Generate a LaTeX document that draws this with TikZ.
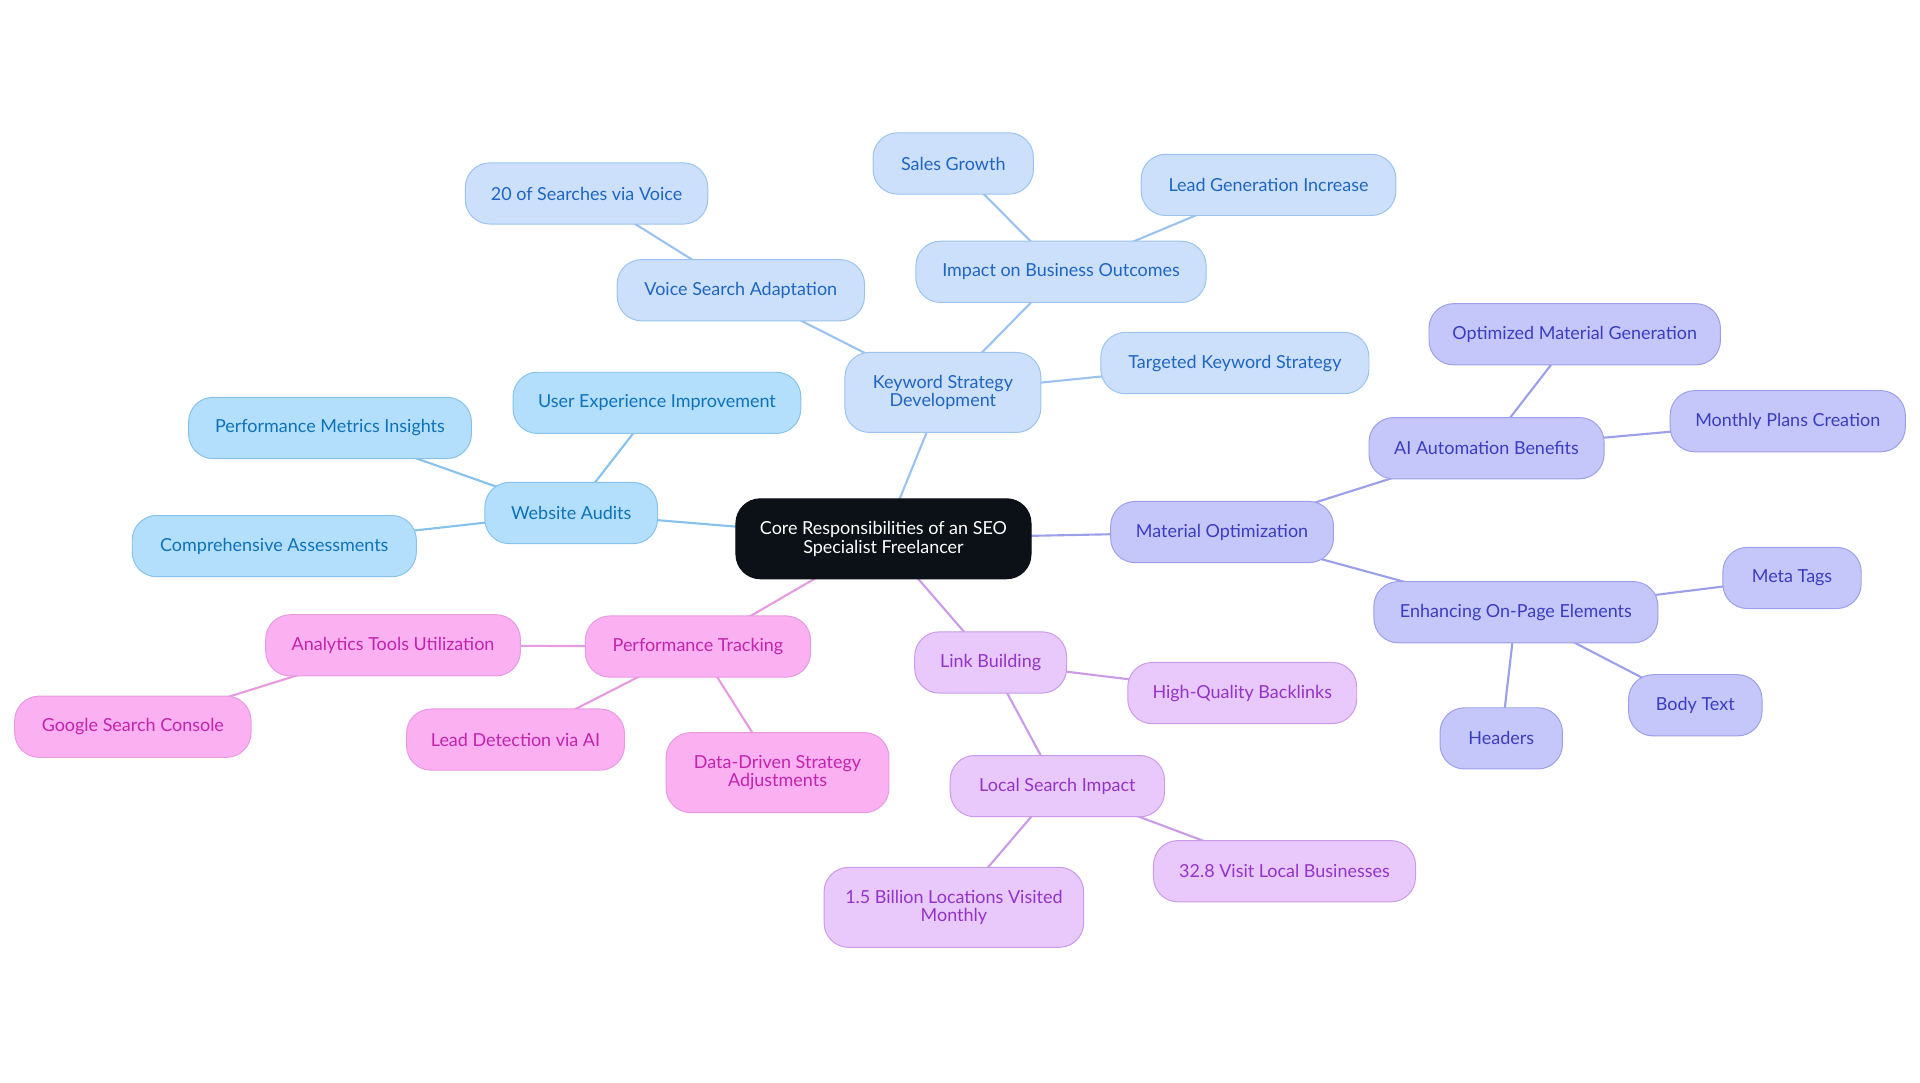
\documentclass[tikz,border=0pt]{standalone}
\usepackage{fontspec}
\setmainfont{Lato}
\usetikzlibrary{backgrounds}
\definecolor{kwfill}{HTML}{CCE0FB}\definecolor{kwdraw}{HTML}{9CC3F0}\definecolor{kwtext}{HTML}{1F66C1}
\definecolor{wafill}{HTML}{B3DFFD}\definecolor{wadraw}{HTML}{86C2EC}\definecolor{watext}{HTML}{0D72B8}
\definecolor{mofill}{HTML}{C5C7FA}\definecolor{modraw}{HTML}{9C9FE9}\definecolor{motext}{HTML}{3B3DC0}
\definecolor{lbfill}{HTML}{E9C8FC}\definecolor{lbdraw}{HTML}{C99BE9}\definecolor{lbtext}{HTML}{9234C8}
\definecolor{ptfill}{HTML}{FBB0F2}\definecolor{ptdraw}{HTML}{E89AE0}\definecolor{pttext}{HTML}{C224AC}
\definecolor{corefill}{HTML}{0B1117}
\begin{document}
\begin{tikzpicture}[x=0.75pt,y=-0.75pt,
  box/.style={rounded corners=15pt,inner sep=0pt,align=center,line width=0.6pt,
    font=\fontsize{11}{11.5}\selectfont,minimum height=37.5pt},
  kw/.style={box,fill=kwfill,draw=kwdraw,text=kwtext},
  wa/.style={box,fill=wafill,draw=wadraw,text=watext},
  mo/.style={box,fill=mofill,draw=modraw,text=motext},
  lb/.style={box,fill=lbfill,draw=lbdraw,text=lbtext},
  pt/.style={box,fill=ptfill,draw=ptdraw,text=pttext},
  tall/.style={minimum height=49pt},
  kwe/.style={draw=kwdraw,line width=1.3pt},
  wae/.style={draw=wadraw,line width=1.3pt},
  moe/.style={draw=modraw,line width=1.3pt},
  lbe/.style={draw=lbdraw,line width=1.3pt},
  pte/.style={draw=ptdraw,line width=1.3pt}]
\useasboundingbox (0,0) rectangle (1568,884);
% core
\node[box,tall,fill=corefill,draw=corefill,text=white,minimum width=180.75pt] (core) at (721.5,440) {Core Responsibilities of an SEO\\Specialist Freelancer};
% keyword branch
\node[kw,tall,minimum width=120pt] (kw) at (770,320.5) {Keyword Strategy\\Development};
\node[kw,minimum width=151.5pt] (voice) at (605,237) {Voice Search Adaptation};
\node[kw,minimum width=148.5pt] (twenty) at (479,158) {20 of Searches via Voice};
\node[kw,minimum width=177.75pt] (impact) at (866.5,222) {Impact on Business Outcomes};
\node[kw,minimum width=98.25pt] (sales) at (778.5,133.5) {Sales Growth};
\node[kw,minimum width=156pt] (leadgen) at (1036,151) {Lead Generation Increase};
\node[kw,minimum width=164.25pt] (target) at (1008.5,296.5) {Targeted Keyword Strategy};
% website audits
\node[wa,minimum width=105.75pt] (wa) at (466.5,419) {Website Audits};
\node[wa,minimum width=176.25pt] (ux) at (536.5,329) {User Experience Improvement};
\node[wa,minimum width=173.25pt] (pmi) at (269.5,349.5) {Performance Metrics Insights};
\node[wa,minimum width=174pt] (comp) at (224,446) {Comprehensive Assessments};
% material optimization
\node[mo,minimum width=136.5pt] (mo) at (998,434.5) {Material Optimization};
\node[mo,minimum width=144pt] (ai) at (1214,366) {AI Automation Benefits};
\node[mo,minimum width=178.5pt] (omg) at (1286,273) {Optimized Material Generation};
\node[mo,minimum width=144pt] (mpc) at (1460,344) {Monthly Plans Creation};
\node[mo,minimum width=174pt] (enh) at (1238,500) {Enhancing On-Page Elements};
\node[mo,minimum width=84.75pt] (meta) at (1463.5,472) {Meta Tags};
\node[mo,minimum width=81.75pt] (body) at (1384.5,576) {Body Text};
\node[mo,minimum width=75pt] (head) at (1226,603) {Headers};
% link building
\node[lb,minimum width=93pt] (lb) at (809,541) {Link Building};
\node[lb,minimum width=140.25pt] (hq) at (1014.5,566) {High-Quality Backlinks};
\node[lb,minimum width=131.25pt] (local) at (863.5,642) {Local Search Impact};
\node[lb,tall,minimum width=159pt] (billion) at (779,741) {1.5 Billion Locations Visited\\Monthly};
\node[lb,minimum width=160.5pt] (visit) at (1049,711.5) {32.8 Visit Local Businesses};
% performance tracking
\node[pt,minimum width=138pt] (pt) at (570,528) {Performance Tracking};
\node[pt,minimum width=156pt] (ana) at (321,527) {Analytics Tools Utilization};
\node[pt,minimum width=144.75pt] (gsc) at (108.5,593.5) {Google Search Console};
\node[pt,minimum width=133.5pt] (ldai) at (421,604) {Lead Detection via AI};
\node[pt,tall,minimum width=136.5pt] (ddsa) at (635,631) {Data-Driven Strategy\\Adjustments};
\begin{pgfonlayer}{background}
\path[kwe] (core.center) -- (kw.center);
\path[kwe] (kw.center) -- (voice.center);
\path[kwe] (voice.center) -- (twenty.center);
\path[kwe] (kw.center) -- (impact.center);
\path[kwe] (impact.center) -- (sales.center);
\path[kwe] (impact.center) -- (leadgen.center);
\path[kwe] (kw.center) -- (target.center);
\path[wae] (core.center) -- (wa.center);
\path[wae] (wa.center) -- (ux.center);
\path[wae] (wa.center) -- (pmi.center);
\path[wae] (wa.center) -- (comp.center);
\path[moe] (core.center) -- (mo.center);
\path[moe] (mo.center) -- (ai.center);
\path[moe] (ai.center) -- (omg.center);
\path[moe] (ai.center) -- (mpc.center);
\path[moe] (mo.center) -- (enh.center);
\path[moe] (enh.center) -- (meta.center);
\path[moe] (enh.center) -- (body.center);
\path[moe] (enh.center) -- (head.center);
\path[lbe] (core.center) -- (lb.center);
\path[lbe] (lb.center) -- (hq.center);
\path[lbe] (lb.center) -- (local.center);
\path[lbe] (local.center) -- (visit.center);
\path[lbe] (local.center) -- (billion.center);
\path[pte] (core.center) -- (pt.center);
\path[pte] (pt.center) -- (ana.center);
\path[pte] (ana.center) -- (gsc.center);
\path[pte] (pt.center) -- (ldai.center);
\path[pte] (pt.center) -- (ddsa.center);
\end{pgfonlayer}
\end{tikzpicture}
\end{document}
